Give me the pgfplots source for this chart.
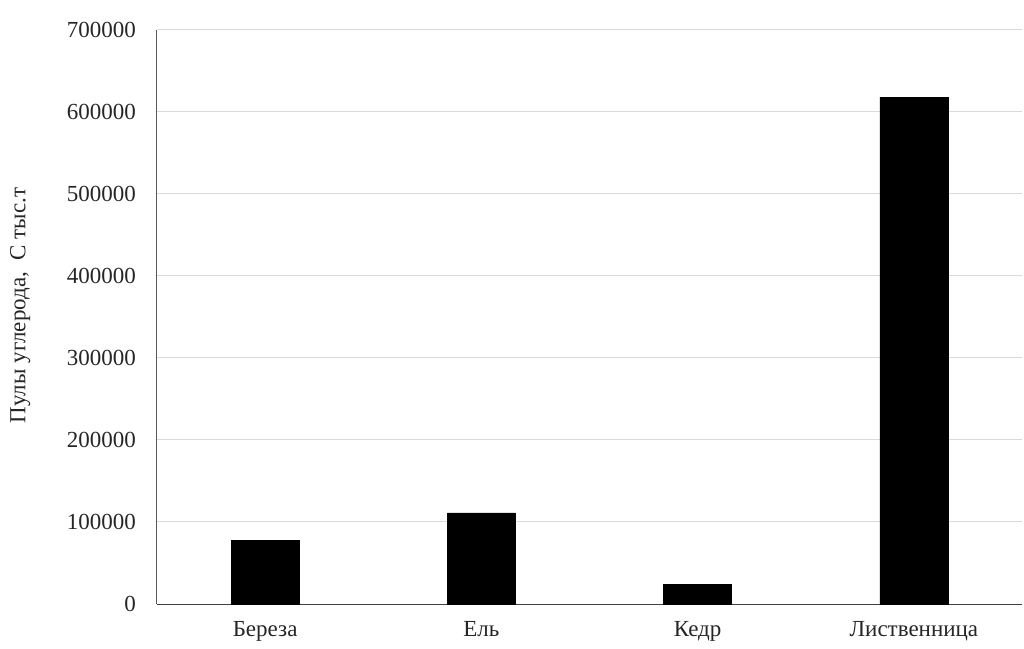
\documentclass[border=0pt]{standalone}
\usepackage{pgfplots}
\pgfplotsset{compat=1.18}
\usepackage{fontspec}
\setmainfont{Liberation Serif}
\begin{document}
\begin{tikzpicture}
\begin{axis}[
  name=ax,
  scale only axis,
  width=865bp, height=574bp,
  xmin=-0.5, xmax=3.5,
  ymin=0, ymax=700000,
  axis x line*=bottom,
  axis y line*=left,
  x axis line style={draw=black!75, line width=1bp},
  y axis line style={draw=black!65, line width=1bp},
  ytick={0,100000,...,700000},
  scaled y ticks=false,
  xtick=data,
  xticklabels={Береза, Ель, Кедр, Лиственница},
  major tick length=0pt,
  ymajorgrids,
  grid style={draw=black!15, line width=1bp},
  /pgf/number format/.cd, fixed, 1000 sep={}, assume math mode=true,
  /pgfplots/.cd,
  tick label style={font=\fontsize{23bp}{27bp}\selectfont, text=black!85},
  yticklabel style={inner sep=0pt, anchor=east, xshift=-21bp},
  xticklabel style={inner sep=0pt, anchor=north, yshift=-17bp},
  ylabel={Пулы углерода,\ \ С тыс.т},
  ylabel style={at={(axis description cs:-0.158,0.52)}, anchor=center, rotate=0, font=\fontsize{23bp}{27bp}\selectfont, text=black!85},
  clip=false,
]
\addplot[ybar, bar width=68bp, fill=black, draw=black] coordinates {
  (0,78000) (1,111000) (2,24000) (3,618000)
};
\end{axis}
\pgfresetboundingbox
\path ([shift={(-157bp,-45bp)}]ax.south west) rectangle ([shift={(2bp,30bp)}]ax.north east);
\end{tikzpicture}
\end{document}
